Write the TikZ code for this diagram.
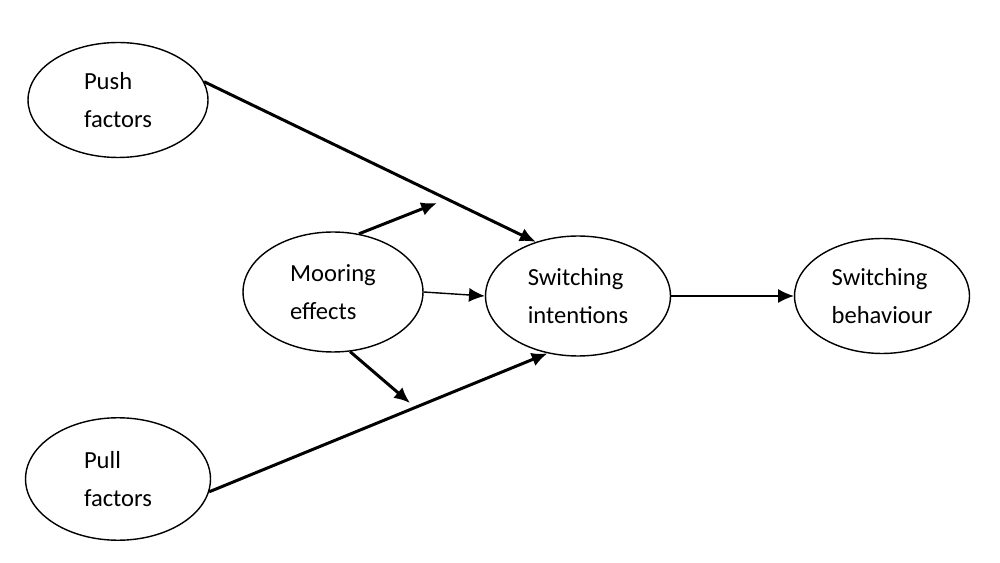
\documentclass[tikz,border=0pt]{standalone}
\usepackage{fontspec}
\setmainfont{Carlito}
\usetikzlibrary{shapes.geometric,arrows.meta}
\begin{document}
\begin{tikzpicture}[x=0.02cm,y=-0.02cm,
  ell/.style={ellipse,draw,line width=0.8pt,inner sep=0pt,align=left,font=\fontsize{14}{22}\selectfont},
  thk/.style={line width=1.7pt,-{Latex[length=9pt,width=8pt]}},
  thn/.style={line width=0.8pt,-{Latex[length=9pt,width=8pt]}}]
\useasboundingbox (0,0) rectangle (1000,563);
\node[ell,minimum width=180\pgflinewidth,minimum width=3.6cm,minimum height=2.3cm] (push) at (118,100) {Push\\factors};
\node[ell,minimum width=3.7cm,minimum height=2.45cm] (pull) at (118,479) {Pull\\factors};
\node[ell,minimum width=3.6cm,minimum height=2.4cm] (moor) at (333,292) {Mooring\\effects};
\node[ell,minimum width=3.7cm,minimum height=2.4cm] (int) at (578,296) {Switching\\intentions};
\node[ell,minimum width=3.5cm,minimum height=2.3cm] (beh) at (882,296) {Switching\\behaviour};
\coordinate (t1) at (437,203);
\coordinate (t2) at (410,403);
\draw[thk] (push.12) -- (int.128);
\draw[thk] (pull.-8) -- (int.-118);
\draw[thn] (moor.east) -- (int.west);
\draw[thn] (int.east) -- (beh.west);
\draw[thk] (moor.66) -- (t1);
\draw[thk] (moor.-74) -- (t2);
\end{tikzpicture}
\end{document}
